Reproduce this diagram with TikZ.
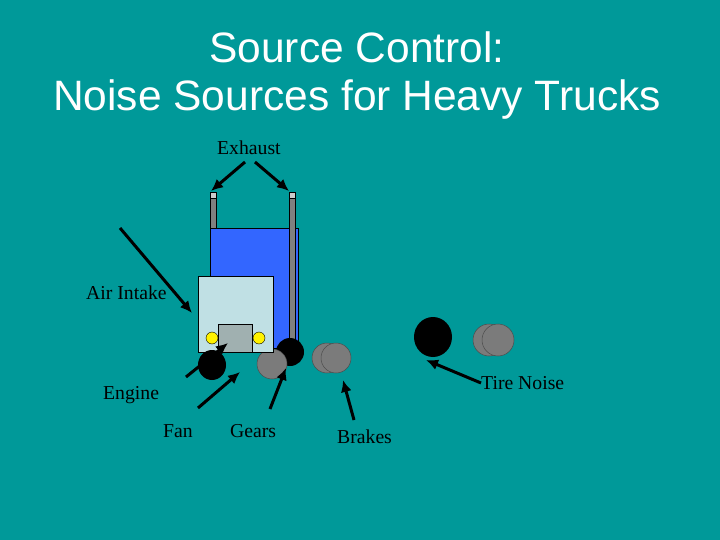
\documentclass[tikz,border=0pt]{standalone}
\usepackage{fontspec}
\setmainfont{Liberation Serif}
\newfontfamily\titlefont{Liberation Sans}
\usetikzlibrary{arrows.meta}
\begin{document}
\begin{tikzpicture}[x=1pt,y=-1pt,
  lbl/.style={font=\fontsize{19.7}{22}\selectfont, inner sep=0pt, anchor=west},
  arr/.style={line width=3pt,-{Latex[length=12pt,width=11pt]}},
  gw/.style={draw=black!70,fill=gray!85!black!90, line width=0.5pt}]
\fill[fill={rgb,255:red,0;green,153;blue,153}] (0,0) rectangle (720,540);
\useasboundingbox (0,0) rectangle (720,540);
\node[font=\titlefont\fontsize{42.5}{48}\selectfont, align=center, text=white] (title) at (357,76) {Source Control:\\Noise Sources for Heavy Trucks};
% labels
\node[lbl] (exh) at (217,148) {Exhaust};
\node[lbl] (air) at (86,293) {Air Intake};
\node[lbl] (eng) at (103,395) {Engine};
\node[lbl] (fan) at (163,431) {Fan};
\node[lbl] (gea) at (230,431) {Gears};
\node[lbl] (bra) at (337,437) {Brakes};
\node[lbl] (tir) at (481,383) {Tire Noise};
% truck body
\fill[fill={rgb,255:red,51;green,102;blue,255}, draw=black, line width=0.4pt] (210,228) rectangle (298,348);
\draw[fill=gray, line width=0.4pt] (210,195) rectangle (216,228);
\draw[fill=gray!40, line width=0.4pt] (210,192) rectangle (216,198);
\draw[fill=gray, line width=0.4pt] (289,195) rectangle (295,342);
\draw[fill=gray!40, line width=0.4pt] (289,192) rectangle (295,198);
\fill[black] (290,352) circle (14);
\draw[gw] (272,364) circle (15);
\draw[fill={rgb,255:red,192;green,224;blue,228}, line width=0.4pt] (198,276) rectangle (273,352);
\draw[fill={rgb,255:red,160;green,176;blue,176}, line width=0.4pt] (218,324) rectangle (252,352);
\draw[fill=yellow, line width=0.4pt] (212,338) circle (6);
\draw[fill=yellow, line width=0.4pt] (259,338) circle (6);
% engine arrow then black wheel
\coordinate (engS) at (186,377);
\coordinate (engT) at (228,343);
\draw[arr] (engS) -- (engT);
\fill[black] (212,365) ellipse (14 and 15);
% brakes wheels
\draw[gw] (327,358) circle (15);
\draw[gw] (336,358) circle (15);
\fill[black] (433,337) ellipse (19 and 20);
\draw[gw] (489,340) circle (16);
\draw[gw] (498,340) circle (16);
% arrows
\coordinate (e1) at (211,191); \coordinate (e2) at (289,191);
\coordinate (exL) at (245,162); \coordinate (exR) at (255,162);
\draw[arr] (exL) -- (e1);
\draw[arr] (exR) -- (e2);
\coordinate (ai) at (192,313);
\draw[arr] (120,228) -- (ai);
\coordinate (fa) at (240,372);
\draw[arr] (198,408) -- (fa);
\coordinate (ge) at (286,368);
\draw[arr] (270,409) -- (ge);
\coordinate (br) at (343,380);
\draw[arr] (354,420) -- (br);
\coordinate (ti) at (426,360);
\draw[arr] (tir.west) -- (ti);
\end{tikzpicture}
\end{document}
